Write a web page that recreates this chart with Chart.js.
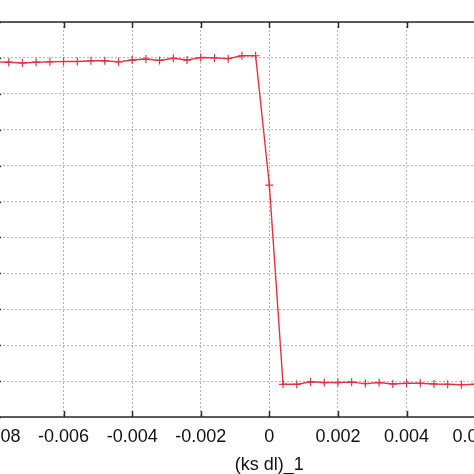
<!DOCTYPE html>
<html>
<head>
<meta charset="utf-8">
<script src="https://cdn.jsdelivr.net/npm/chart.js@4/dist/chart.umd.min.js"></script>
<style>
  html, body { margin: 0; padding: 0; width: 474px; height: 474px; overflow: hidden; background: #fff; }
  #wrap { position: absolute; left: -50px; top: 0; width: 600px; height: 474px; }
</style>
</head>
<body>
<div id="wrap"><canvas id="c"></canvas></div>
<script>
// x positions (ks dl)_1
const xValues = [-0.0080, -0.0076, -0.0072, -0.0068, -0.0064, -0.0060, -0.0056, -0.0052, -0.0048, -0.0044,
                 -0.0040, -0.0036, -0.0032, -0.0028, -0.0024, -0.0020, -0.0016, -0.0012, -0.0008, -0.0004,
                  0.0000,  0.0004,  0.0008,  0.0012,  0.0016,  0.0020,  0.0024,  0.0028,  0.0032,  0.0036,
                  0.0040,  0.0044,  0.0048,  0.0052,  0.0056,  0.0060];
// series values (arbitrary units; y-axis labels are cropped out of the reference)
const yValues = [9.89, 9.88, 9.86, 9.88, 9.89, 9.90, 9.90, 9.92, 9.92, 9.89,
                 9.94, 9.97, 9.93, 9.99, 9.94, 10.01, 10.00, 9.98, 10.06, 10.06,
                 6.46, 0.91, 0.91, 0.98, 0.96, 0.96, 0.97, 0.93, 0.96, 0.92,
                 0.94, 0.94, 0.92, 0.91, 0.90, 0.91];
const xTickValues = [-0.008, -0.006, -0.004, -0.002, 0, 0.002, 0.004, 0.006, 0.008];
const xTitle = '(ks dl)_1';

const points = xValues.map((x, i) => ({ x: x, y: yValues[i] }));

const frame = {
  id: 'frame',
  afterDraw(chart) {
    const { ctx, chartArea: a, scales } = chart;
    ctx.save();
    ctx.strokeStyle = '#2a2a2a';
    ctx.lineWidth = 1.5;
    ctx.strokeRect(a.left, a.top, a.right - a.left, a.bottom - a.top);
    ctx.beginPath();
    scales.x.ticks.forEach(t => {
      const px = Math.round(scales.x.getPixelForValue(t.value)) + 0.5;
      ctx.moveTo(px, a.bottom); ctx.lineTo(px, a.bottom - 6);
      ctx.moveTo(px, a.top); ctx.lineTo(px, a.top + 6);
    });
    scales.y.ticks.forEach(t => {
      const py = Math.round(scales.y.getPixelForValue(t.value)) + 0.5;
      ctx.moveTo(a.left, py); ctx.lineTo(a.left + 6, py);
      ctx.moveTo(a.right, py); ctx.lineTo(a.right - 6, py);
    });
    ctx.stroke();
    ctx.restore();
  }
};

new Chart(document.getElementById('c'), {
  type: 'scatter',
  data: {
    datasets: [{
      data: points,
      showLine: true,
      borderColor: 'rgb(224,52,64)',
      backgroundColor: 'rgb(224,52,64)',
      borderWidth: 1.4,
      pointStyle: 'cross',
      pointRadius: 4,
      pointBorderWidth: 1.2,
      pointHoverRadius: 4,
      tension: 0
    }]
  },
  options: {
    responsive: true,
    maintainAspectRatio: false,
    animation: false,
    devicePixelRatio: 1,
    layout: { padding: { left: 45, right: 6.3, top: 22, bottom: 0 } },
    plugins: { legend: { display: false }, tooltip: { enabled: false } },
    scales: {
      x: {
        type: 'linear',
        min: -0.008,
        max: 0.008,
        afterBuildTicks: s => { s.ticks = xTickValues.map(v => ({ value: v })); },
        afterFit: s => { s.height = 57; s.paddingLeft = 0; s.paddingRight = 0; },
        ticks: {
          padding: 11,
          color: '#111',
          font: { family: 'Liberation Sans, Arial, sans-serif', size: 18, lineHeight: 1 },
          maxRotation: 0,
          autoSkip: false,
          callback: v => String(Math.round(v * 10000) / 10000)
        },
        grid: { color: '#b5b5b5', lineWidth: 1, drawTicks: false, tickLength: 0 },
        border: { display: false, dash: [2, 2] },
        title: {
          display: true,
          text: xTitle,
          color: '#111',
          font: { family: 'Liberation Sans, Arial, sans-serif', size: 18, lineHeight: 1 },
          padding: { top: 10, bottom: 0 }
        }
      },
      y: {
        type: 'linear',
        min: 0,
        max: 11,
        afterFit: s => { s.width = 0; s.paddingTop = 0; s.paddingBottom = 0; },
        ticks: { display: false, stepSize: 1 },
        grid: { color: '#b5b5b5', lineWidth: 1, drawTicks: false, tickLength: 0 },
        border: { display: false, dash: [2, 2] }
      }
    }
  },
  plugins: [frame]
});
</script>
</body>
</html>
